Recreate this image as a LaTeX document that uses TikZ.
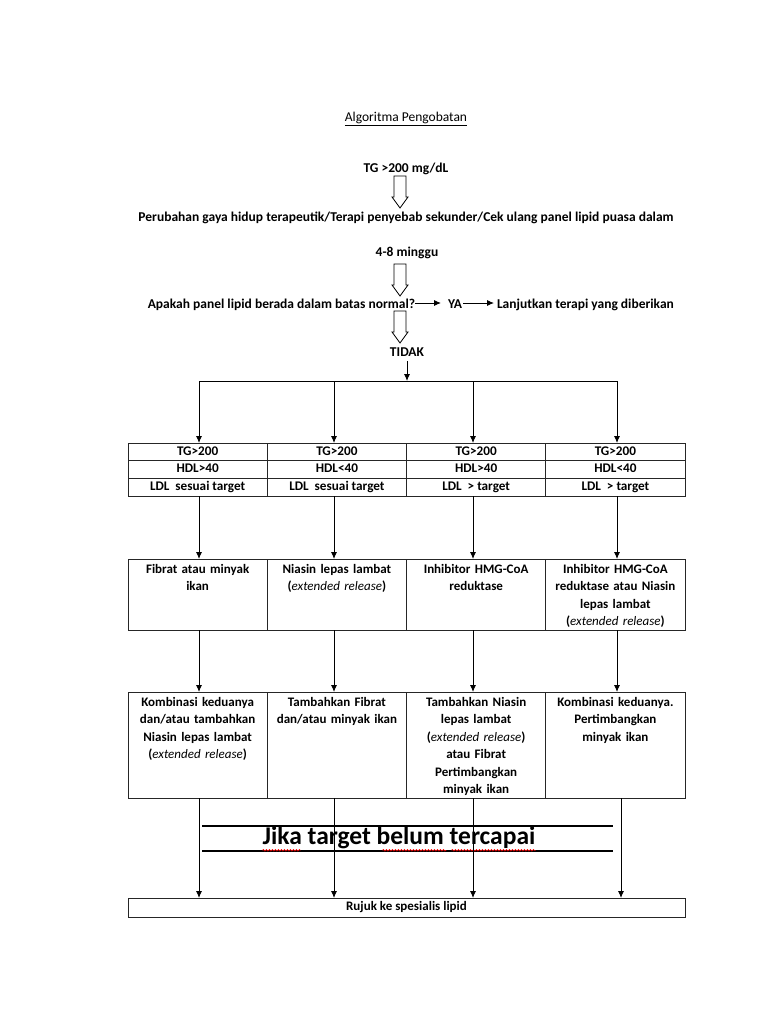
\documentclass[tikz,border=0pt]{standalone}
\usepackage{fontspec}
\setmainfont{Carlito}
\usetikzlibrary{arrows.meta,positioning,decorations.pathmorphing}

\newcommand\hollowarrow[1]{% open block arrow pointing down, top at #1
  \draw[hollow] (#1) ++(-6,0) -- ++(0,21) -- ++(-2,0) -- ++(8,11) -- ++(8,-11) -- ++(-2,0) -- ++(0,-21) -- cycle;}

\begin{document}
\begin{tikzpicture}[x=1pt,y=-1pt,
  lbl/.style={inner sep=0,outer sep=0,text height=9.5pt,text depth=3pt,font=\fontsize{13.5}{17.5}\selectfont\bfseries},
  cell/.style={draw=black!85,line width=1pt,minimum width=139.25pt,minimum height=17.67pt,inner sep=0,outer sep=0,text height=9.5pt,text depth=3pt,anchor=north west,font=\fontsize{13.2}{17.5}\selectfont\bfseries},
  box/.style={draw=black!85,line width=1pt,minimum width=139.25pt,inner sep=0,outer sep=0,anchor=north west},
  boxtext/.style={inner sep=0,text width=136pt,align=center,font=\fontsize{13}{17.5}\selectfont\bfseries},
  arr/.style={-{Latex[length=7pt,width=6pt]},line width=0.9pt},
  hollow/.style={line width=0.8pt,fill=white},
  squig/.style={red,line width=0.6pt,decorate,decoration={snake,amplitude=0.8pt,segment length=3pt}}]
\fill[white] (0,0) rectangle (768,1024);
\useasboundingbox (0,0) rectangle (768,1024);

% header
\node[inner sep=0,font=\fontsize{13.5}{17.5}\selectfont] (title) at (406,119) {\underline{Algoritma Pengobatan}};
\node[lbl] (tg) at (406,169) {TG >200 mg/dL};
\node[lbl] (ubah) at (406,218) {Perubahan gaya hidup terapeutik/Terapi penyebab sekunder/Cek ulang panel lipid puasa dalam};
\node[lbl] (minggu) at (407,253) {4-8 minggu};
\node[lbl,anchor=east] (apakah) at (415,305) {Apakah panel lipid berada dalam batas normal?};
\node[lbl,anchor=west] (ya) at (448,305) {YA};
\node[lbl,anchor=west] (lanjut) at (497,305) {Lanjutkan terapi yang diberikan};
\node[lbl] (tidak) at (407,353) {TIDAK};

\coordinate (ha1) at (400,176);
\coordinate (ha2) at (400,264);
\coordinate (ha3) at (400,311);
\hollowarrow{ha1}
\hollowarrow{ha2}
\hollowarrow{ha3}

\draw[arr,shorten >=7pt] ([yshift=2pt]apakah.east) -- ([yshift=2pt]ya.west);
\draw[arr,shorten <=1pt,shorten >=3pt] ([yshift=2pt]ya.east) -- ([yshift=2pt]lanjut.west);

% split line
\coordinate (sp1) at (199,381);
\coordinate (sp2) at (334,381);
\coordinate (sp3) at (473,381);
\coordinate (sp4) at (617,381);
\draw[line width=0.9pt] (sp1) -- (sp4);
\draw[arr,shorten <=2pt] (tidak.south) -- (tidak.south |- sp1);

% criteria table
\node[cell] (tga) at (128,443) {TG>200};
\node[cell] (tgb) at (267.25,443) {TG>200};
\node[cell] (tgc) at (406.5,443) {TG>200};
\node[cell] (tgd) at (545.75,443) {TG>200};
\node[cell] (hdla) at (128,460.67) {HDL>40};
\node[cell] (hdlb) at (267.25,460.67) {HDL<40};
\node[cell] (hdlc) at (406.5,460.67) {HDL>40};
\node[cell] (hdld) at (545.75,460.67) {HDL<40};
\node[cell] (ldla) at (128,478.33) {LDL\ \ sesuai target};
\node[cell] (ldlb) at (267.25,478.33) {LDL\ \ sesuai target};
\node[cell] (ldlc) at (406.5,478.33) {LDL\ \ > target};
\node[cell] (ldld) at (545.75,478.33) {LDL\ \ > target};

\foreach \c in {a,b,c,d}
  \node[box,minimum height=71pt] (obat\c) at ([yshift=-63pt]ldl\c.south west) {};
\foreach \c in {a,b,c,d}
  \node[box,minimum height=106pt] (tambah\c) at ([yshift=-62pt]obat\c.south west) {};
\node[box,minimum width=557pt,minimum height=19pt] (rujuk) at (128,898) {};

\node[boxtext,below=5pt of obata.north] (ta) {Fibrat atau minyak\\ikan};
\node[boxtext,below=5pt of obatb.north] (tb) {Niasin lepas lambat\\(\textit{\mdseries extended release})};
\node[boxtext,below=5pt of obatc.north] (tc) {Inhibitor HMG-CoA\\reduktase};
\node[boxtext,below=5pt of obatd.north] (td) {Inhibitor HMG-CoA\\reduktase atau Niasin\\lepas lambat\\(\textit{\mdseries extended release})};
\node[boxtext,below=5pt of tambaha.north] (ka) {Kombinasi keduanya\\dan/atau tambahkan\\Niasin lepas lambat\\(\textit{\mdseries extended release})};
\node[boxtext,below=5pt of tambahb.north] (kb) {Tambahkan Fibrat\\dan/atau minyak ikan};
\node[boxtext,below=5pt of tambahc.north] (kc) {Tambahkan Niasin\\lepas lambat\\(\textit{\mdseries extended release})\\atau Fibrat\\Pertimbangkan\\minyak ikan};
\node[boxtext,below=5pt of tambahd.north] (kd) {Kombinasi keduanya.\\Pertimbangkan\\minyak ikan};
\node[inner sep=0,text height=9pt,text depth=3pt,font=\fontsize{13}{15}\selectfont\bfseries] (rujuktext) at (rujuk.center) {Rujuk ke spesialis lipid};

% banner
\draw[line width=1.5pt] (202,826) -- (613,826);
\draw[line width=1.5pt] (202,851) -- (613,851);
\node[inner sep=0,font=\fontsize{25.5}{28}\selectfont\bfseries] (jika) at (399,838) {Jika target belum tercapai};
\draw[squig] ([xshift=0pt,yshift=-1pt]jika.south west) -- ([xshift=38pt,yshift=-1pt]jika.south west);
\draw[squig] ([xshift=120pt,yshift=-1pt]jika.south west) -- ([xshift=184pt,yshift=-1pt]jika.south west);
\draw[squig] ([xshift=189pt,yshift=-1pt]jika.south west) -- ([yshift=-1pt]jika.south east);

% column arrows
\coordinate (ax1) at (199,0);
\coordinate (ax2) at (334,0);
\coordinate (ax3) at (473,0);
\coordinate (ax4) at (617,0);
\draw[arr] (sp1) -- (tga.north -| ax1);
\draw[arr] (sp2) -- (tgb.north -| ax2);
\draw[arr] (sp3) -- (tgc.north -| ax3);
\draw[arr] (sp4) -- (tgd.north -| ax4);
\draw[arr] (ldla.south -| ax1) -- (obata.north -| ax1);
\draw[arr] (ldlb.south -| ax2) -- (obatb.north -| ax2);
\draw[arr] (ldlc.south -| ax3) -- (obatc.north -| ax3);
\draw[arr] (ldld.south -| ax4) -- (obatd.north -| ax4);
\draw[arr] (obata.south -| ax1) -- (tambaha.north -| ax1);
\draw[arr] (obatb.south -| ax2) -- (tambahb.north -| ax2);
\draw[arr] (obatc.south -| ax3) -- (tambahc.north -| ax3);
\draw[arr] (obatd.south -| ax4) -- (tambahd.north -| ax4);
\draw[arr] (tambaha.south -| ax1) -- (rujuk.north -| ax1);
\draw[arr] (tambahb.south -| ax2) -- (rujuk.north -| ax2);
\draw[arr] (tambahc.south -| ax3) -- (rujuk.north -| ax3);
\draw[arr] ([xshift=4pt]tambahd.south -| ax4) -- ([xshift=4pt]rujuk.north -| ax4);
\end{tikzpicture}
\end{document}
